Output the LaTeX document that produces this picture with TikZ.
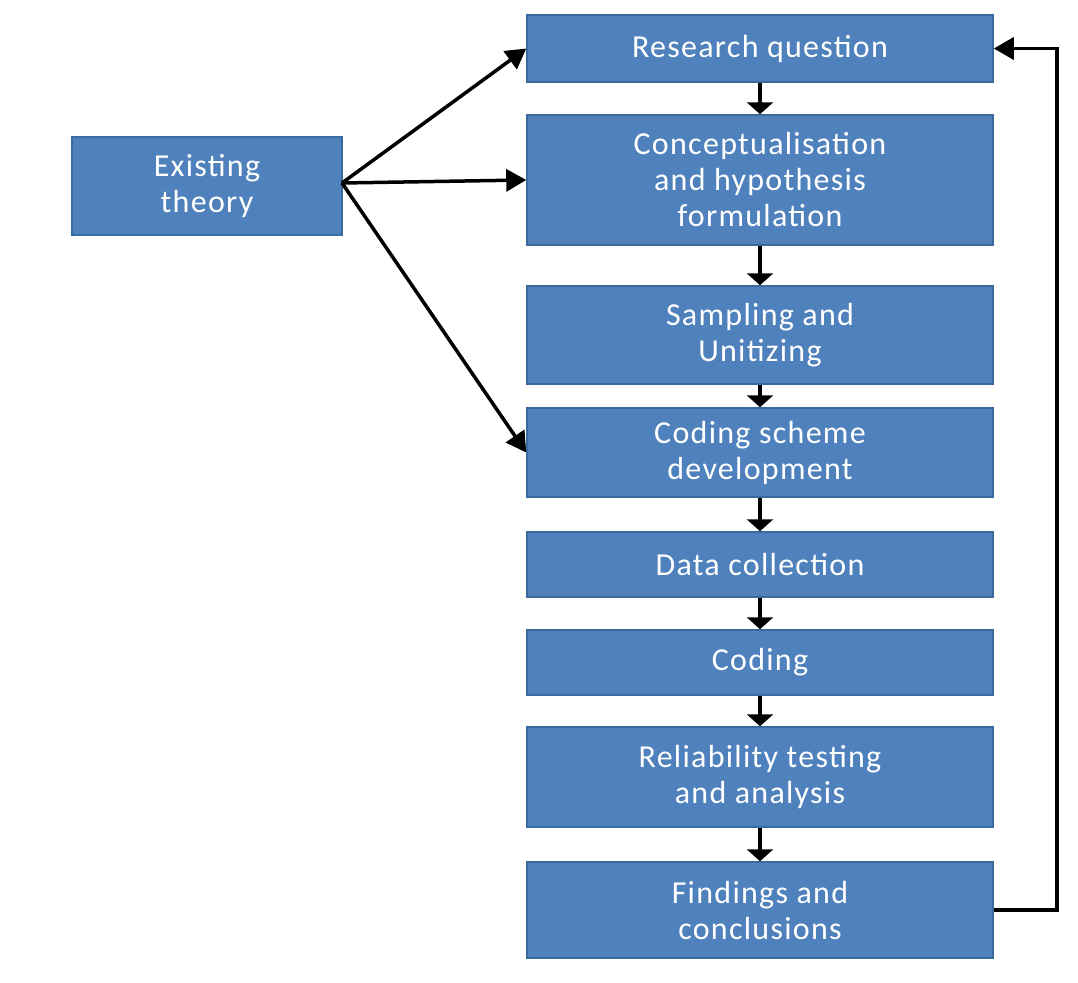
\documentclass[tikz,border=0pt]{standalone}
\usepackage{fontspec}
\setmainfont{Carlito}[LetterSpace=4]
\usetikzlibrary{arrows.meta}
\definecolor{boxblue}{HTML}{4F81BD}
\definecolor{boxedge}{HTML}{3B6A9F}
\begin{document}
\begin{tikzpicture}[x=1pt,y=-1pt,
  box/.style={draw=boxedge,line width=1.5pt,fill=boxblue,text=white,align=center,
    font=\fontsize{32}{36}\selectfont,inner sep=0pt,minimum width=466pt},
  link/.style={line width=3.5pt,-{Triangle[length=20pt,width=22pt]}},
  down/.style={line width=4.5pt,-{Triangle[length=12pt,width=26pt]}}]
\useasboundingbox (0,0) rectangle (1078,982);
\node[box,minimum height=67pt] (rq) at (760,48.5) {Research question};
\node[box,minimum height=130pt] (cf) at (760,180) {Conceptualisation\\and hypothesis\\formulation};
\node[box,minimum height=98pt] (su) at (760,335) {Sampling and\\Unitizing};
\node[box,minimum height=89pt] (cs) at (760,452.5) {Coding scheme\\development};
\node[box,minimum height=65pt] (dc) at (760,564.5) {Data collection};
\node[box,minimum height=65pt] (co) at (760,662.5) {Coding};
\node[box,minimum height=100pt] (rt) at (760,777) {Reliability testing\\and analysis};
\node[box,minimum height=96pt] (fc) at (760,910) {Findings and\\conclusions};
\node[box,minimum width=270pt,minimum height=98pt] (et) at (207,186) {Existing\\theory};
\coordinate (eo) at (342,183);
\draw[link] (eo) -- (rq.west);
\draw[link] (eo) -- (cf.west);
\draw[link] (eo) -- (cs.west);
\foreach \a/\b in {rq/cf,cf/su,su/cs,cs/dc,dc/co,co/rt,rt/fc}
  \draw[down] (\a.south) -- (\b.north);
\draw[link] (fc.east) -- (1057,910) -- (1057,48.5) -- (rq.east);
\end{tikzpicture}
\end{document}
